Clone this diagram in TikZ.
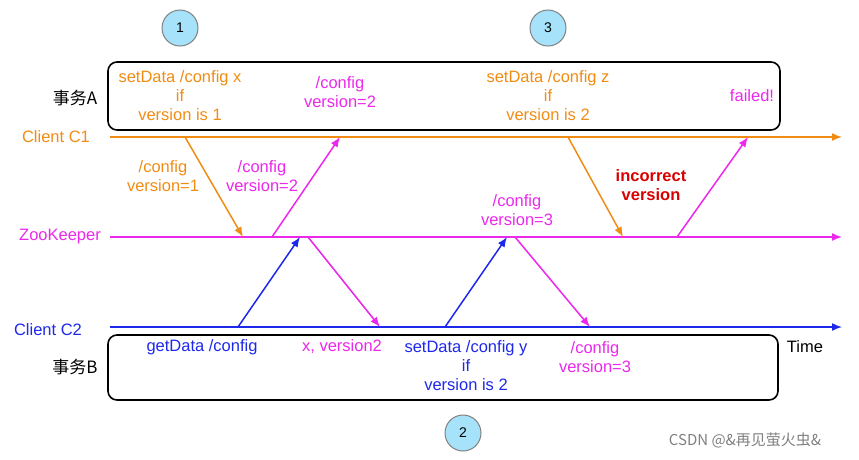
\documentclass[tikz,border=0pt]{standalone}
\usepackage{fontspec}
\usetikzlibrary{arrows.meta}
\setmainfont{Liberation Sans}
\newfontfamily\cjk{Noto Sans CJK SC}
\begin{document}
\begin{tikzpicture}[x=1pt,y=-1pt,
  every node/.style={font=\fontsize{16.5}{19}\selectfont,align=center,inner sep=1pt},
  ln/.style={line width=1.5pt,-{Latex[length=10pt,width=8pt]}},
  num/.style={circle,draw=gray,line width=1pt,fill=cyan!35!white,minimum size=36pt,font=\fontsize{14}{16}\selectfont},
  box/.style={draw,line width=1.6pt,rounded corners=9pt}]
\useasboundingbox (0,0) rectangle (859,459);
\definecolor{oc}{RGB}{240,140,20}
\definecolor{mc}{RGB}{235,40,235}
\definecolor{bc}{RGB}{30,40,235}
\node[num] (n1) at (180,28) {1};
\node[num] (n3) at (548,28) {3};
\node[num] (n2) at (463,433) {2};
\draw[box] (108,62) rectangle (780,130);
\draw[box] (108,335) rectangle (778,400);
\node[font=\cjk\fontsize{17}{19}\selectfont] (ea) at (75,98) {事务A};
\node[font=\cjk\fontsize{17}{19}\selectfont] (eb) at (75,367) {事务B};
\node[oc] (c1) at (56,137) {Client C1};
\node[mc] (zk) at (60,237) {ZooKeeper};
\node[bc] (c2) at (48,330) {Client C2};
\node (time) at (805,347) {Time};
\coordinate (c1s) at (110,137); \coordinate (c1e) at (842,137);
\coordinate (zks) at (110,237); \coordinate (zke) at (842,237);
\coordinate (c2s) at (110,327); \coordinate (c2e) at (842,327);
\draw[ln,oc] (c1s) -- (c1e);
\draw[ln,mc] (zks) -- (zke);
\draw[ln,bc] (c2s) -- (c2e);
\coordinate (a1) at (185,137); \coordinate (a2) at (243,237);
\coordinate (b1) at (272,237); \coordinate (b2) at (340,137);
\coordinate (d1) at (238,327); \coordinate (d2) at (300,237);
\coordinate (e1) at (308,237); \coordinate (e2) at (380,327);
\coordinate (f1) at (445,327); \coordinate (f2) at (507,237);
\coordinate (g1) at (515,237); \coordinate (g2) at (590,327);
\coordinate (h1) at (568,137); \coordinate (h2) at (623,237);
\coordinate (k1) at (677,237); \coordinate (k2) at (748,137);
\draw[ln,oc] (a1) -- (a2);
\draw[ln,mc] (b1) -- (b2);
\draw[ln,bc] (d1) -- (d2);
\draw[ln,mc] (e1) -- (e2);
\draw[ln,bc] (f1) -- (f2);
\draw[ln,mc] (g1) -- (g2);
\draw[ln,oc] (h1) -- (h2);
\draw[ln,mc] (k1) -- (k2);
\node[oc] (t1) at (180,96) {setData /config x\\if\\version is 1};
\node[mc] (t2) at (340,92) {/config\\version=2};
\node[oc] (t3) at (548,96) {setData /config z\\if\\version is 2};
\node[mc] (t4) at (752,96) {failed!};
\node[oc] (t5) at (163,176) {/config\\version=1};
\node[mc] (t6) at (262,176) {/config\\version=2};
\node[mc] (t7) at (517,210) {/config\\version=3};
\node[red!85!black,font=\bfseries\fontsize{16.5}{19}\selectfont] (t8) at (651,185) {incorrect\\version};
\node[bc] (t9) at (202,347) {getData /config};
\node[mc] (t10) at (342,347) {x, version2};
\node[bc] (t11) at (466,366) {setData /config y\\if\\version is 2};
\node[mc] (t12) at (595,357) {/config\\version=3};
\node[gray,font=\cjk\fontsize{15}{17}\selectfont] (wm) at (745,440) {CSDN @\&再见萤火虫\&};
\end{tikzpicture}
\end{document}
